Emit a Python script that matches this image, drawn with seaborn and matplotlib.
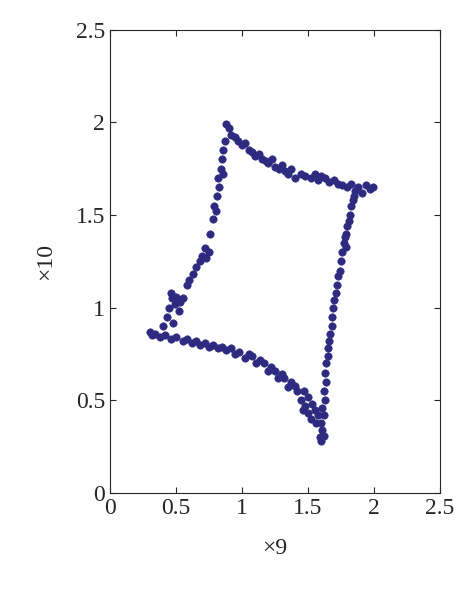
import matplotlib
matplotlib.use("Agg")
import matplotlib.pyplot as plt
import seaborn as sns
import pandas as pd

pts = [(0.88,1.99),(0.90,1.97),(0.92,1.93),(0.95,1.92),(0.97,1.90),(1.00,1.88),(1.02,1.89),(1.05,1.85),(1.08,1.84),(1.10,1.82),(1.13,1.83),(1.15,1.80),(1.18,1.79),(1.20,1.78),(1.23,1.80),(1.25,1.76),(1.28,1.75),(1.30,1.77),(1.33,1.74),(1.35,1.72),(1.37,1.75),(1.40,1.70),(1.45,1.72),(1.48,1.71),(1.52,1.70),(1.55,1.72),(1.58,1.69),(1.60,1.71),(1.63,1.70),(1.66,1.68),(1.70,1.69),(1.73,1.67),(1.76,1.66),(1.80,1.65),(1.83,1.67),(1.86,1.63),(1.88,1.65),(1.91,1.62),(1.94,1.66),(1.97,1.64),(1.99,1.65),(1.85,1.60),
(1.84,1.58),(1.83,1.55),(1.82,1.50),(1.81,1.47),(1.80,1.44),(1.79,1.40),(1.78,1.38),(1.77,1.35),(1.79,1.33),(1.76,1.30),(1.75,1.25),(1.74,1.20),(1.73,1.17),(1.72,1.12),(1.71,1.08),(1.70,1.04),(1.69,1.00),(1.68,0.95),(1.68,0.90),(1.67,0.86),(1.66,0.82),(1.65,0.78),(1.65,0.74),(1.64,0.70),(1.63,0.65),(1.64,0.60),(1.62,0.55),(1.63,0.50),(1.61,0.46),(1.62,0.42),(1.60,0.38),(1.61,0.34),(1.59,0.30),(1.60,0.28),(1.62,0.31),
(1.58,0.42),(1.56,0.38),(1.55,0.45),(1.52,0.40),(1.50,0.43),(1.48,0.47),(1.46,0.45),(1.45,0.50),(1.47,0.55),(1.50,0.52),(1.53,0.48),
(1.42,0.55),(1.40,0.58),(1.37,0.60),(1.35,0.57),(1.32,0.62),(1.30,0.64),(1.27,0.62),(1.25,0.66),(1.22,0.68),(1.20,0.66),(1.17,0.70),(1.14,0.72),(1.11,0.70),(1.08,0.74),(1.05,0.75),(1.02,0.73),(0.98,0.76),(0.95,0.75),(0.92,0.78),(0.88,0.77),(0.85,0.79),(0.82,0.78),(0.78,0.80),(0.75,0.79),(0.72,0.81),(0.68,0.80),(0.65,0.82),(0.62,0.81),(0.58,0.83),(0.55,0.82),(0.50,0.84),(0.46,0.83),(0.42,0.85),(0.38,0.84),(0.34,0.86),(0.30,0.87),(0.32,0.85),
(0.40,0.90),(0.43,0.95),(0.45,1.00),(0.47,1.05),(0.49,1.02),(0.52,0.98),(0.48,0.92),(0.46,1.08),(0.50,1.06),(0.53,1.03),
(0.55,1.05),(0.58,1.12),(0.60,1.15),(0.63,1.18),(0.65,1.22),(0.68,1.25),(0.70,1.28),(0.72,1.32),(0.75,1.30),(0.73,1.27),
(0.76,1.40),(0.78,1.48),(0.80,1.52),(0.79,1.55),(0.81,1.60),(0.83,1.65),(0.82,1.70),(0.84,1.75),(0.85,1.80),(0.86,1.85),(0.87,1.90),(0.86,1.72)]
xs = [p[0] for p in pts]
ys = [p[1] for p in pts]
ticks = [0, 0.5, 1, 1.5, 2, 2.5]
tick_labels = ["0", "0.5", "1", "1.5", "2", "2.5"]

sns.set_style("ticks")
plt.rcParams['font.family'] = ['Liberation Serif', 'DejaVu Serif']
plt.rcParams['xtick.direction'] = 'in'
plt.rcParams['ytick.direction'] = 'in'

fig = plt.figure(figsize=(4.74, 5.94), dpi=100)
ax = fig.add_axes([0.232, 0.17, 0.696, 0.78])
df = pd.DataFrame({"x": xs, "y": ys})
sns.scatterplot(data=df, x="x", y="y", ax=ax, color="#2e2a80", s=28, edgecolor="#2e2a80", linewidth=0.5)
ax.set_xlim(0, 2.5); ax.set_ylim(0, 2.5)
ax.set_xticks(ticks); ax.set_xticklabels(tick_labels)
ax.set_yticks(ticks); ax.set_yticklabels(tick_labels)
ax.tick_params(labelsize=17, top=True, right=True, length=4)
ax.set_xlabel("×9", fontsize=17, labelpad=14)
ax.set_ylabel("×10", fontsize=17, labelpad=14)
for s in ax.spines.values():
    s.set_visible(True); s.set_linewidth(0.8)
fig.savefig("out.png", dpi=100)
